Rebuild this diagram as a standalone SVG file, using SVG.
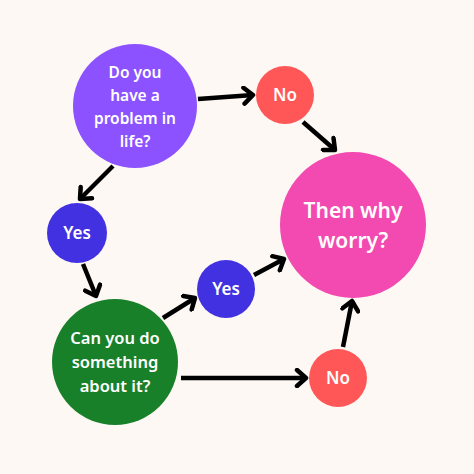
<svg xmlns="http://www.w3.org/2000/svg" width="474" height="474" viewBox="0 0 474 474">
<defs>
<marker id="ah" viewBox="-12 -10 16 20" markerWidth="16" markerHeight="20" refX="0" refY="0" orient="auto" markerUnits="userSpaceOnUse">
<path d="M-9,-8 L0,0 L-9,8" fill="none" stroke="#000" stroke-width="4.5" stroke-linecap="round" stroke-linejoin="round"/>
</marker>
<style>
.t{font-family:"Noto Sans","Open Sans",sans-serif;font-weight:600;fill:#fff;text-anchor:middle}
.c line{stroke:#000;stroke-width:4.5;marker-end:url(#ah)}
</style>
</defs>
<rect width="474" height="474" fill="#fdf8f3"/>
<g id="q1"><circle cx="135" cy="106" r="62" fill="#8c52ff"/>
<text class="t" font-size="15.5"><tspan x="135" y="78">Do you</tspan><tspan x="135" y="101">have a</tspan><tspan x="135" y="124">problem in</tspan><tspan x="135" y="147">life?</tspan></text></g>
<g id="no1"><circle cx="285" cy="95" r="29" fill="#ff5757"/><text class="t" font-size="17" x="285" y="101">No</text></g>
<g id="end"><circle cx="353" cy="225" r="73" fill="#f24ab0"/>
<text class="t" font-size="21"><tspan x="353" y="218">Then why</tspan><tspan x="353" y="248">worry?</tspan></text></g>
<g id="yes1"><circle cx="77" cy="233" r="30" fill="#4131e0"/><text class="t" font-size="17" x="77" y="239">Yes</text></g>
<g id="q2"><circle cx="115" cy="362" r="63" fill="#19802a"/>
<text class="t" font-size="16.5"><tspan x="115" y="344">Can you do</tspan><tspan x="115" y="368">something</tspan><tspan x="115" y="392">about it?</tspan></text></g>
<g id="yes2"><circle cx="226" cy="289" r="29" fill="#4131e0"/><text class="t" font-size="17" x="226" y="295">Yes</text></g>
<g id="no2"><circle cx="338" cy="378" r="29" fill="#ff5757"/><text class="t" font-size="17" x="338" y="384">No</text></g>
<g id="connectors" class="c">
<line x1="198" y1="99" x2="253" y2="95"/>
<line x1="303" y1="122" x2="335" y2="150"/>
<line x1="113" y1="166" x2="80" y2="199"/>
<line x1="83" y1="264" x2="96" y2="296"/>
<line x1="163" y1="318" x2="195" y2="298"/>
<line x1="254" y1="275" x2="284" y2="259"/>
<line x1="181" y1="378" x2="306" y2="378"/>
<line x1="343" y1="347" x2="352" y2="301"/>
</g>
</svg>
